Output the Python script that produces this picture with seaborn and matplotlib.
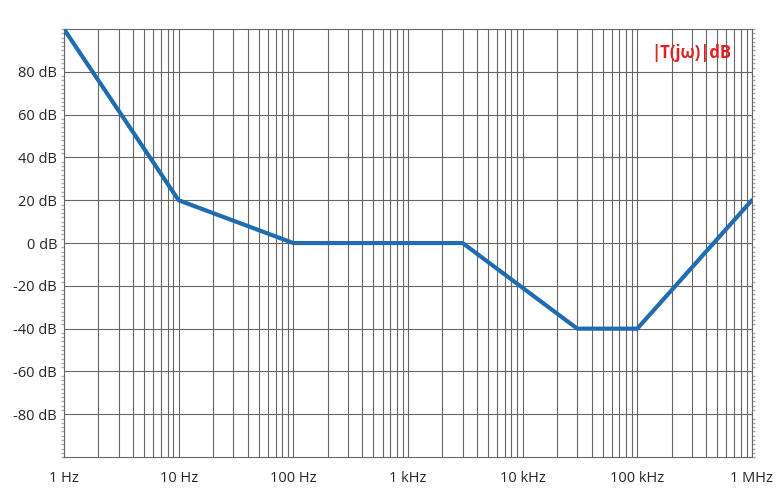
import matplotlib
matplotlib.use("Agg")
import matplotlib.pyplot as plt
import matplotlib.ticker as mticker
import numpy as np
import pandas as pd
import seaborn as sns

# Bode magnitude (asymptotic) breakpoints
freq_hz = [1, 10, 100, 3000, 30000, 100000, 1000000]
mag_db = [100, 20, 0, 0, -40, -40, 20]

x_ticks = [1, 10, 100, 1e3, 1e4, 1e5, 1e6]
x_labels = ["1 Hz", "10 Hz", "100 Hz", "1 kHz", "10 kHz", "100 kHz", "1 MHz"]
y_ticks = [-80, -60, -40, -20, 0, 20, 40, 60, 80]
y_labels = [f"{v} dB" for v in y_ticks]

df = pd.DataFrame({"f": freq_hz, "mag": mag_db})

sns.set_theme(style="white")
plt.rcParams["font.family"] = ["Open Sans", "DejaVu Sans"]

fig = plt.figure(figsize=(7.8, 4.92), dpi=100)
ax = fig.add_axes([0.082, 0.071, 0.882, 0.870])

sns.lineplot(data=df, x="f", y="mag", color="#1f6db0", linewidth=3, ax=ax, zorder=3)

ax.set_xscale("log")
ax.set_xlim(1, 1e6)
ax.set_ylim(-100, 100)

ax.set_xticks(x_ticks)
ax.set_xticklabels(x_labels, fontsize=10.5)
ax.xaxis.set_minor_locator(mticker.LogLocator(base=10, subs=np.arange(2, 10)))
ax.xaxis.set_minor_formatter(mticker.NullFormatter())

ax.set_yticks(y_ticks)
ax.set_yticklabels(y_labels, fontsize=10.5)
ax.yaxis.set_minor_locator(mticker.MultipleLocator(2))

ax.grid(True, which="both", axis="x", color="#666666", linewidth=0.8)
ax.grid(True, which="major", axis="y", color="#666666", linewidth=0.8)
ax.set_axisbelow(True)

ax.tick_params(axis="x", which="major", length=4, color="#888888", pad=6)
ax.tick_params(axis="y", which="major", length=4, color="#888888", pad=1)
ax.tick_params(axis="y", which="minor", left=True, right=True, length=2, color="#aaaaaa")
ax.tick_params(axis="x", which="minor", length=0)

for side in ["left", "bottom", "top", "right"]:
    ax.spines[side].set_color("#666666")
    ax.spines[side].set_linewidth(0.8)

ax.set_xlabel("")
ax.set_ylabel("")

ax.text(0.97, 0.945, "|T(jω)|dB", transform=ax.transAxes, ha="right", va="center",
        color="#e02020", fontsize=12, fontweight="bold")

plt.savefig("out.png", dpi=100)
